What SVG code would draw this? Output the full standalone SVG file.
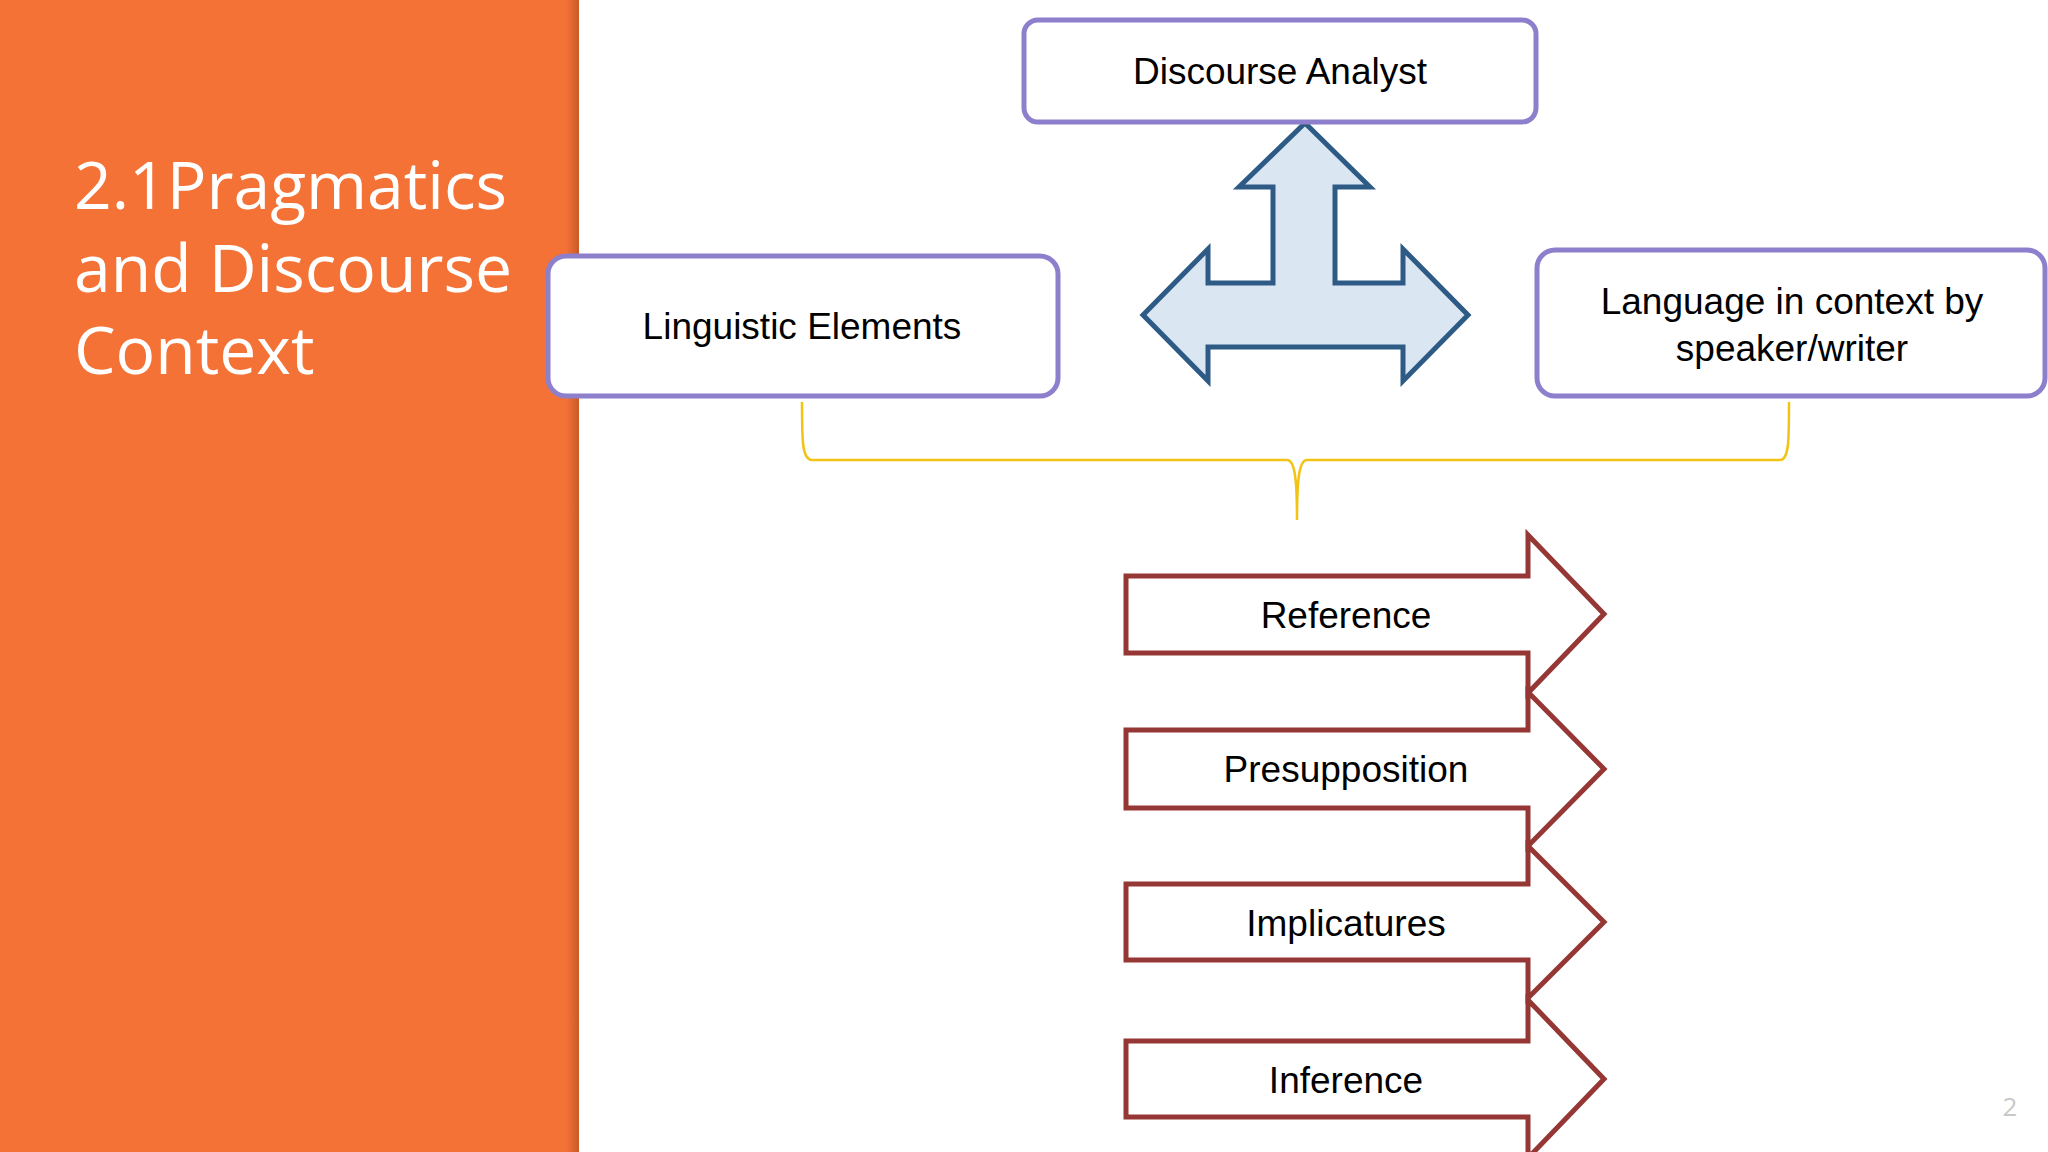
<svg xmlns="http://www.w3.org/2000/svg" width="2048" height="1152" viewBox="0 0 2048 1152">
<defs>
<linearGradient id="sh" x1="0" x2="1"><stop offset="0" stop-color="#f47236"/><stop offset="1" stop-color="#c95a28"/></linearGradient>
<style>
.box{fill:#fff;stroke:#8e7fcc;stroke-width:5}
.t{font-family:"Liberation Sans",Arial,sans-serif;font-size:37px;fill:#000;text-anchor:middle}
.ra{fill:#fff;stroke:#953735;stroke-width:5}
.title{font-family:"Open Sans",sans-serif;font-size:66px;fill:#fff}
</style>
</defs>
<rect width="2048" height="1152" fill="#fff"/>
<rect x="0" y="0" width="579" height="1152" fill="#f47236"/>
<rect x="566" y="0" width="13" height="1152" fill="url(#sh)"/>
<text class="title"><tspan x="74" y="209">2.1Pragmatics</tspan><tspan x="74" y="292">and Discourse</tspan><tspan x="74" y="374">Context</tspan></text>
<g id="connectors">
<path d="M1305,123 L1370,187 L1335,187 L1335,283 L1403,283 L1403,249 L1468,315 L1403,381 L1403,347 L1208,347 L1208,381 L1143,315 L1208,249 L1208,283 L1273,283 L1273,187 L1239,187 Z" fill="#dae6f2" stroke="#2e5b85" stroke-width="5" stroke-linejoin="miter"/>
<path d="M802,402 C802,440 802,460 812,460 L1287,460 C1295,460 1297,480 1297,520 C1297,480 1299,460 1307,460 L1780,460 C1789,460 1789,440 1789,402" fill="none" stroke="#f2c314" stroke-width="2.5"/>
</g>
<g id="discourse"><rect class="box" x="1024" y="20" width="512" height="102" rx="14"/><text class="t" x="1280" y="84">Discourse Analyst</text></g>
<g id="linguistic"><rect class="box" x="548" y="256" width="510" height="140" rx="18"/><text class="t" x="802" y="339">Linguistic Elements</text></g>
<g id="language"><rect class="box" x="1537" y="250" width="508" height="146" rx="18"/><text class="t" x="1792" y="314">Language in context by</text><text class="t" x="1792" y="361">speaker/writer</text></g>
<g id="reference"><path class="ra" d="M1126,576 L1528,576 L1528,535 L1604,614 L1528,693 L1528,653 L1126,653 Z"/><text class="t" x="1346" y="628">Reference</text></g>
<g id="presupposition"><path class="ra" d="M1126,730 L1528,730 L1528,692 L1604,769 L1528,846 L1528,808 L1126,808 Z"/><text class="t" x="1346" y="782">Presupposition</text></g>
<g id="implicatures"><path class="ra" d="M1126,884 L1528,884 L1528,846 L1604,922 L1528,998 L1528,960 L1126,960 Z"/><text class="t" x="1346" y="936">Implicatures</text></g>
<g id="inference"><path class="ra" d="M1126,1041 L1528,1041 L1528,1000 L1604,1079 L1528,1158 L1528,1117 L1126,1117 Z"/><text class="t" x="1346" y="1093">Inference</text></g>
<text x="2010" y="1116" font-family="Open Sans,sans-serif" font-size="26" fill="#c8c8c8" text-anchor="middle">2</text>
</svg>
